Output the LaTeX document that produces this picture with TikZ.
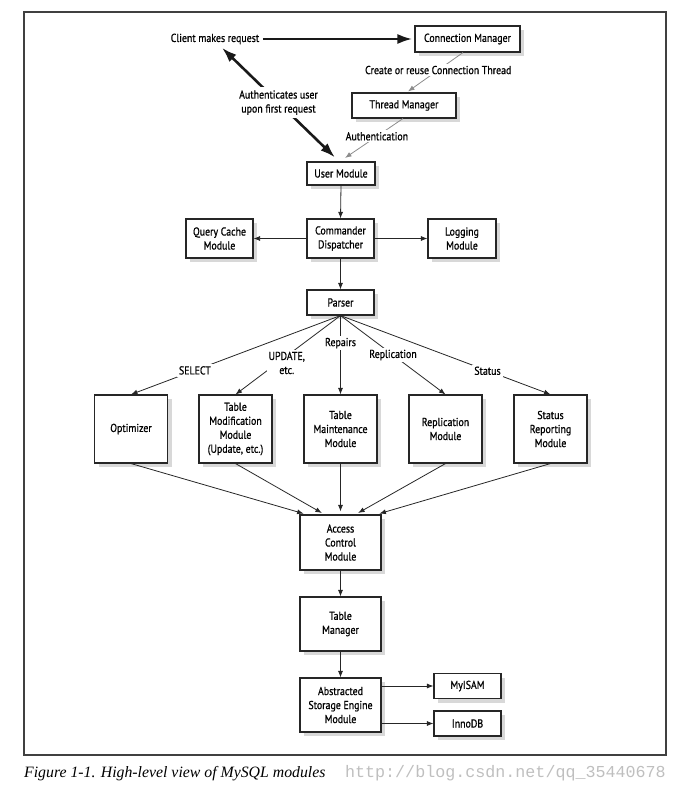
\documentclass[tikz,border=0pt]{standalone}
\usepackage{fontspec}
\setmainfont{PT Sans}[FakeStretch=0.86,FakeBold=0.8]
\newfontfamily\capfont{Liberation Serif}
\newfontfamily\wmfont{Liberation Mono}
\usetikzlibrary{arrows.meta,shadows,calc}
\begin{document}
\begin{tikzpicture}[x=1pt,y=-1pt,
  font=\fontsize{11.5}{14}\selectfont,
  mbox/.style={draw=black!85, line width=1.1pt, fill=white, align=center, inner sep=1pt,
    drop shadow={shadow xshift=4pt, shadow yshift=-4pt, fill=black!30}},
  arr/.style={-{Latex[length=6.5pt,width=5pt]}, line width=0.8pt, draw=black!85},
  garr/.style={-{Latex[length=6.5pt,width=5pt]}, line width=0.8pt, draw=black!45},
  tarr/.style={line width=2.6pt, draw=black!90},
  lbl/.style={fill=white, inner sep=2pt, align=center, text=black}]
\useasboundingbox (0,0) rectangle (677,789);
\draw[line width=1.5pt, black!75] (24,12) rectangle (666,755);

% top part
\node (client) at (215,39) {Client makes request};
\node[mbox, minimum width=105pt, minimum height=26pt] (conn) at (467.5,39) {Connection Manager};
\node[mbox, minimum width=104pt, minimum height=25pt] (thread) at (404,105.5) {Thread Manager};
\node[mbox, minimum width=68pt, minimum height=23pt] (user) at (341,173.5) {User Module};

\draw[tarr, -{Latex[length=15pt,width=10pt]}] (client.east) -- ([xshift=-2pt]conn.west);
\draw[tarr, {Latex[length=15pt,width=10pt]}-{Latex[length=15pt,width=10pt]}]
  ($(client.south)+(7,0)$) -- node[lbl, inner sep=3pt]{Authenticates user\\upon first request} ($(user.north)+(-6,-4)$);
\draw[garr] ($(conn.south)+(-4.5,0)$) -- node[lbl, pos=0.45]{Create or reuse Connection Thread} ($(thread.north)+(4,-1)$);
\draw[garr] ($(thread.south)+(-1,0)$) -- node[lbl, pos=0.45]{Authentication} ($(user.north)+(4,-3.5)$);

% dispatcher row
\node[mbox, minimum width=67pt, minimum height=39pt] (qcache) at (219.5,238.5) {Query Cache\\Module};
\node[mbox, minimum width=67pt, minimum height=39pt] (cmd) at (340.5,238.5) {Commander\\Dispatcher};
\node[mbox, minimum width=68pt, minimum height=39pt] (log) at (462,238.5) {Logging\\Module};
\node[mbox, minimum width=67pt, minimum height=25pt] (parser) at (340.5,302.5) {Parser};

\draw[arr] (user.south) -- (cmd.north);
\draw[arr] (cmd.west) -- (qcache.east);
\draw[arr] (cmd.east) -- (log.west);
\draw[arr] (cmd.south) -- (parser.north);

% module row
\tikzset{mod/.style={mbox, minimum width=73pt, minimum height=68pt}}
\node[mod] (opt) at (131,429) {Optimizer};
\node[mod] (tmod) at (235.5,429) {Table\\Modification\\Module\\(Update, etc.)};
\node[mod] (tmaint) at (340.5,429) {Table\\Maintenance\\Module};
\node[mod] (repl) at (445.5,429) {Replication\\Module};
\node[mod] (stat) at (550.5,429) {Status\\Reporting\\Module};

\draw[arr] (parser.south) -- node[lbl, pos=0.695]{SELECT} (opt.north);
\draw[arr] (parser.south) -- node[lbl, pos=0.55, xshift=4pt, yshift=-4pt, inner sep=1.5pt]{UPDATE,\\etc.} (tmod.north);
\draw[arr] (parser.south) -- node[lbl, pos=0.35]{Repairs} (tmaint.north);
\draw[arr] (parser.south) -- node[lbl, pos=0.5]{Replication} (repl.north);
\draw[arr] (parser.south) -- node[lbl, pos=0.7]{Status} (stat.north);

% lower column
\tikzset{col/.style={mbox, minimum width=81pt}}
\node[col, minimum height=55pt] (access) at (340.5,542.5) {Access\\Control\\Module};
\node[col, minimum height=54pt] (tman) at (340.5,624) {Table\\Manager};
\node[col, minimum height=54pt] (ase) at (340.5,705) {Abstracted\\Storage Engine\\Module};
\node[mbox, minimum width=67pt, minimum height=25pt] (myisam) at (467.5,686) {MyISAM};
\node[mbox, minimum width=67pt, minimum height=25pt] (innodb) at (467.5,723.5) {InnoDB};

\draw[arr, shorten >=3pt] (opt.south) -- ($(access.north)+(-34,0)$);
\draw[arr, shorten >=3pt] (tmod.south) -- ($(access.north)+(-16,0)$);
\draw[arr, shorten >=3pt] (tmaint.south) -- (access.north);
\draw[arr, shorten >=3pt] (repl.south) -- ($(access.north)+(15,0)$);
\draw[arr, shorten >=3pt] (stat.south) -- ($(access.north)+(36,0)$);

\draw[arr] (access.south) -- (tman.north);
\draw[arr] (tman.south) -- (ase.north);
\draw[arr] (ase.east |- myisam.west) -- (myisam.west);
\draw[arr] (ase.east |- innodb.west) -- (innodb.west);

% caption
\node[anchor=base west, inner sep=0pt, font=\capfont\itshape\fontsize{15.8}{17}\selectfont] (cap) at (24,777) {Figure 1-1. High-level view of MySQL modules};
\node[anchor=base east, inner sep=0pt, text=black!25, font=\wmfont\fontsize{16.7}{18}\selectfont] (wm) at (666,777) {http://blog.csdn.net/qq\_35440678};
\end{tikzpicture}
\end{document}
